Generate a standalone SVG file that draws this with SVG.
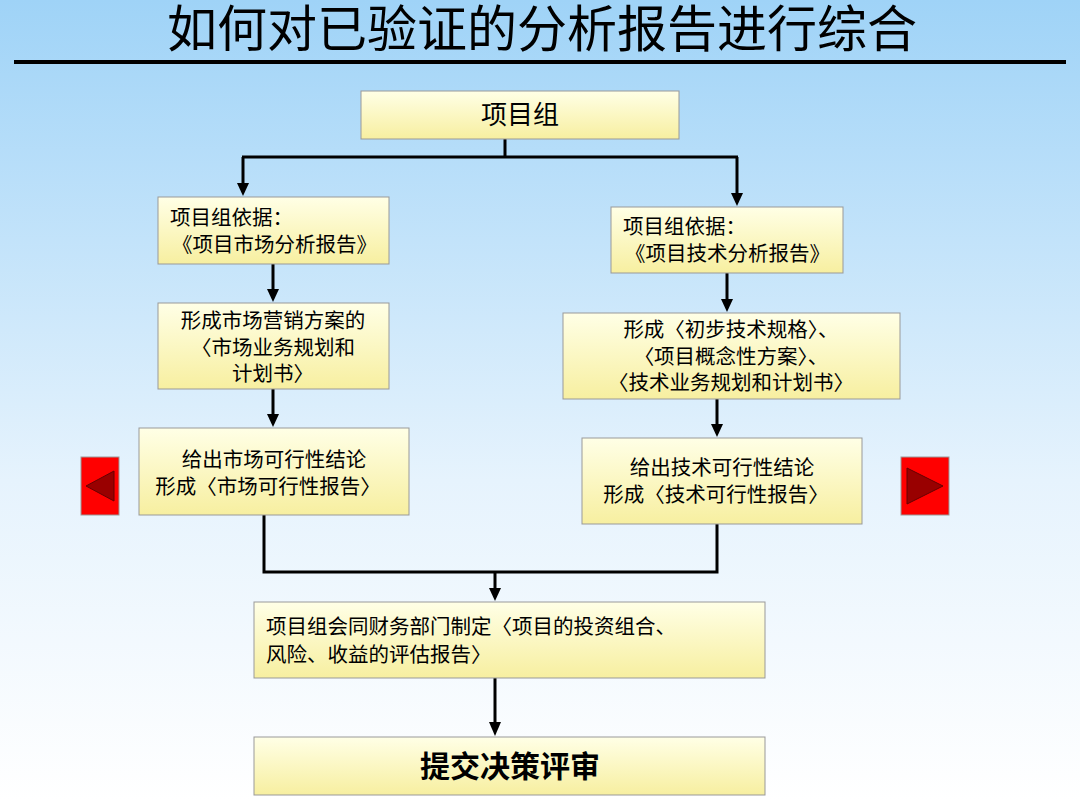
<svg xmlns="http://www.w3.org/2000/svg" width="1080" height="801" viewBox="0 0 1080 801">
<defs>
<linearGradient id="bg" x1="0" y1="0" x2="0" y2="1"><stop offset="0" stop-color="#9fd3f7"/><stop offset="0.6" stop-color="#e6f3fd"/><stop offset="1" stop-color="#ffffff"/></linearGradient>
<linearGradient id="bx" x1="0" y1="0" x2="0" y2="1"><stop offset="0" stop-color="#ffffe6"/><stop offset="1" stop-color="#f7efa0"/></linearGradient>
<marker id="ar" markerWidth="12" markerHeight="12" refX="6" refY="12" orient="auto-start-reverse" markerUnits="userSpaceOnUse" viewBox="0 0 12 12"><path d="M0,0 L12,0 L6,12 Z" fill="#000"/></marker>
</defs>
<style>
.b{fill:url(#bx);stroke:#999;stroke-width:1}
.t{font-family:"Noto Sans CJK SC","Noto Sans",sans-serif;font-size:20.5px;fill:#000}
.c{text-anchor:middle}
.l{stroke:#000;stroke-width:3;fill:none}
</style>
<rect width="1080" height="801" fill="url(#bg)"/>
<text x="542" y="47" class="t c" style="font-size:50px">如何对已验证的分析报告进行综合</text>
<line x1="14" y1="62" x2="1066" y2="62" stroke="#000" stroke-width="4"/>
<g id="connectors">
<path class="l" d="M505,139 V157 M242,157 H738"/>
<path class="l" d="M243,157 V184"/><path d="M237,183 L249,183 L243,196 Z"/>
<path class="l" d="M737,157 V194"/><path d="M731,193 L743,193 L737,206 Z"/>
<path class="l" d="M273,264 V290"/><path d="M267,289 L279,289 L273,302 Z"/>
<path class="l" d="M727,273 V300"/><path d="M721,299 L733,299 L727,312 Z"/>
<path class="l" d="M273,389 V415"/><path d="M267,414 L279,414 L273,427 Z"/>
<path class="l" d="M717,399 V425"/><path d="M711,424 L723,424 L717,437 Z"/>
<path class="l" d="M264,515 V572 H717 V524"/>
<path class="l" d="M495,572 V589"/><path d="M489,588 L501,588 L495,601 Z"/>
<path class="l" d="M495,678 V723"/><path d="M489,722 L501,722 L495,736 Z"/>
</g>
<g id="n0"><rect class="b" x="361" y="91" width="318" height="48"/><text x="520" y="124" class="t c" style="font-size:26px">项目组</text></g>
<g id="a1"><rect class="b" x="158" y="197" width="231" height="67"/><text x="170" y="225" class="t">项目组依据：</text><text x="172" y="252" class="t">《项目市场分析报告》</text></g>
<g id="b1"><rect class="b" x="611" y="207" width="232" height="66"/><text x="623" y="234" class="t">项目组依据：</text><text x="625" y="261" class="t">《项目技术分析报告》</text></g>
<g id="a2"><rect class="b" x="158" y="303" width="231" height="86"/><text x="273" y="328" class="t c">形成市场营销方案的</text><text x="273" y="355" class="t c">〈市场业务规划和</text><text x="273" y="381" class="t c">计划书〉</text></g>
<g id="b2"><rect class="b" x="563" y="313" width="337" height="86"/><text x="731" y="337" class="t c">形成〈初步技术规格〉、</text><text x="731" y="364" class="t c">〈项目概念性方案〉、</text><text x="731" y="390" class="t c">〈技术业务规划和计划书〉</text></g>
<g id="a3"><rect class="b" x="139" y="428" width="270" height="87"/><text x="274" y="467" class="t c">给出市场可行性结论</text><text x="268" y="494" class="t c">形成〈市场可行性报告〉</text></g>
<g id="b3"><rect class="b" x="582" y="438" width="280" height="86"/><text x="722" y="475" class="t c">给出技术可行性结论</text><text x="716" y="502" class="t c">形成〈技术可行性报告〉</text></g>
<g id="c"><rect class="b" x="254" y="602" width="511" height="76"/><text x="266" y="634" class="t">项目组会同财务部门制定〈项目的投资组合、</text><text x="266" y="662" class="t">风险、收益的评估报告〉</text></g>
<g id="d"><rect class="b" x="254" y="737" width="511" height="58"/><text x="510" y="777" class="t c" style="font-size:30px;font-weight:bold">提交决策评审</text></g>
<g id="prev"><rect x="81" y="457" width="38" height="58" fill="#ff0000" stroke="#999"/><path d="M86,486 L114,471 L114,501 Z" fill="#990000" stroke="#660000"/></g>
<g id="next"><rect x="901" y="457" width="48" height="58" fill="#ff0000" stroke="#999"/><path d="M943,486 L907,468 L907,504 Z" fill="#990000" stroke="#660000"/></g>
</svg>
